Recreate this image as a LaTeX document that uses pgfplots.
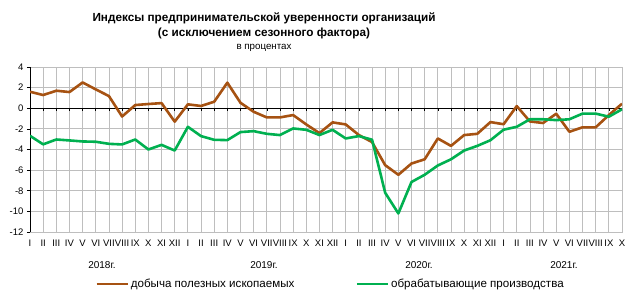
\documentclass[border=0pt]{standalone}
\usepackage{pgfplots}
\pgfplotsset{compat=1.18}
\usepackage{fontspec}
\setmainfont{Liberation Sans}
\definecolor{brownline}{RGB}{166,82,18}
\definecolor{greenline}{RGB}{0,176,80}
\definecolor{gridgray}{RGB}{190,190,190}
\pgfplotstableread{
i brown green
0 1.60 -2.67
1 1.28 -3.50
2 1.70 -3.03
3 1.57 -3.12
4 2.50 -3.22
5 1.83 -3.25
6 1.18 -3.45
7 -0.80 -3.51
8 0.31 -3.03
9 0.41 -4.00
10 0.50 -3.55
11 -1.30 -4.10
12 0.38 -1.80
13 0.22 -2.70
14 0.63 -3.06
15 2.48 -3.09
16 0.53 -2.31
17 -0.34 -2.22
18 -0.89 -2.48
19 -0.89 -2.60
20 -0.66 -1.96
21 -1.57 -2.09
22 -2.41 -2.60
23 -1.37 -2.09
24 -1.57 -2.93
25 -2.60 -2.70
26 -3.28 -3.05
27 -5.52 -8.20
28 -6.45 -10.20
29 -5.36 -7.15
30 -4.95 -6.45
31 -2.93 -5.55
32 -3.65 -4.95
33 -2.60 -4.10
34 -2.48 -3.65
35 -1.34 -3.10
36 -1.55 -2.08
37 0.21 -1.80
38 -1.28 -1.07
39 -1.43 -1.07
40 -0.53 -1.15
41 -2.28 -1.07
42 -1.85 -0.52
43 -1.85 -0.52
44 -0.66 -0.82
45 0.44 -0.10
}\datatable
\begin{document}
\begin{tikzpicture}
\useasboundingbox (0pt,0pt) rectangle (640pt,295pt);
\node[font=\fontsize{11.75}{13}\selectfont\bfseries] at (264pt,277pt) {Индексы предпринимательской уверенности организаций};
\node[font=\fontsize{11.75}{13}\selectfont\bfseries] at (264pt,262pt) {(с исключением сезонного фактора)};
\node[font=\fontsize{9.75}{11}\selectfont] at (264pt,247pt) {в процентах};
\node[font=\fontsize{10}{12}\selectfont] at (102pt,30pt) {2018г.};
\node[font=\fontsize{10}{12}\selectfont] at (264pt,30pt) {2019г.};
\node[font=\fontsize{10}{12}\selectfont] at (419pt,30pt) {2020г.};
\node[font=\fontsize{10}{12}\selectfont] at (564pt,30pt) {2021г.};
\begin{axis}[
  at={(30pt,63pt)}, anchor=south west,
  scale only axis, width=592pt, height=165pt,
  xmin=0, xmax=45, ymin=-12, ymax=4,
  xtick={0,...,45},
  xticklabels={I,II,III,IV,V,VI,VII,VIII,IX,X,XI,XII,I,II,III,IV,V,VI,VII,VIII,IX,X,XI,XII,I,II,III,IV,V,VI,VII,VIII,IX,X,XI,XII,I,II,III,IV,V,VI,VII,VIII,IX,X},
  ytick={-12,-10,...,4},
  grid=major,
  grid style={gridgray, line width=0.8pt},
  axis line style={gridgray, line width=0.8pt},
  xtick style={draw=none},
  ytick style={black, line width=0.6pt},
  tick align=outside, ytick pos=left,
  major tick length=3pt,
  tick label style={font=\fontsize{9.5}{11}\selectfont},
  xticklabel style={yshift=-1pt},
  /pgf/number format/assume math mode=true,
  legend columns=2,
  legend style={at={(0.1098,-0.315)}, anchor=west, draw=none, fill=none, inner sep=0pt,
    font=\fontsize{11.6}{13}\selectfont,
    /tikz/every even column/.append style={column sep=59pt}},
  legend image code/.code={\draw[#1] (0pt,0pt) -- (31pt,0pt);},
]
\draw[black, line width=0.8pt] (axis cs:0,0) -- (axis cs:45,0);
\draw[black, line width=0.8pt] (axis cs:0,-12) -- (axis cs:0,4);
\pgfplotsinvokeforeach{0,...,45}{\draw[black, line width=0.6pt] (axis cs:#1,0) -- ++(0pt,-3pt);}
\addplot[brownline, line width=2.6pt, line join=round, mark=none] table[x=i, y=brown] {\datatable};
\addlegendentry{добыча полезных ископаемых}
\addplot[greenline, line width=2.6pt, line join=round, mark=none] table[x=i, y=green] {\datatable};
\addlegendentry{обрабатывающие производства}
\end{axis}
\end{tikzpicture}
\end{document}
